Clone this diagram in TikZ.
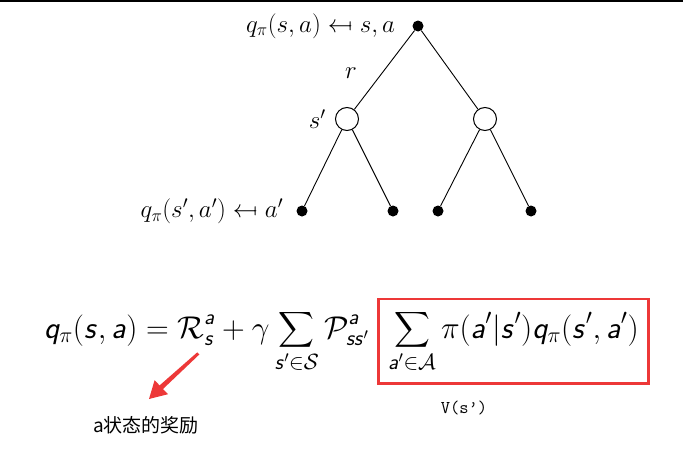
\RequirePackage{fix-cm}
\documentclass[tikz,border=0pt]{standalone}
\usepackage{amsmath}
\usepackage{stmaryrd}
\usepackage{fontspec}
\newfontfamily\cjk{Noto Sans CJK SC}
\usetikzlibrary{positioning}
\DeclareMathAlphabet{\mathsfit}{OT1}{cmss}{m}{sl}
\newcommand{\msf}[1]{\mathsfit{#1}}
\definecolor{boxred}{RGB}{237,56,56}

\tikzset{
  leaf/.style={circle,fill,inner sep=0pt,minimum size=11pt},
  statenode/.style={circle,draw,line width=1pt,inner sep=0pt,minimum size=23pt},
  treelbl/.style={font=\fontsize{25}{30}\selectfont,inner sep=0pt},
  eqn/.style={font=\fontsize{31.5}{38}\selectfont,inner sep=0pt},
}

\begin{document}
\begin{tikzpicture}[x=1pt,y=-1pt]
\useasboundingbox (0,0) rectangle (683,471);
\draw[line width=1.5pt] (0,1) -- (683,1);
% backup tree
\node[leaf] (root) at (418,26) {};
\node[statenode] (sl) at (347,119) {};
\node[statenode] (sr) at (485,119) {};
\node[leaf] (a1) at (302,211) {};
\node[leaf] (a2) at (393,211) {};
\node[leaf] (a3) at (438,211) {};
\node[leaf] (a4) at (531,211) {};
\draw[line width=0.9pt] (root) -- (sl) (root) -- (sr)
  (sl) -- (a1) (sl) -- (a2) (sr) -- (a3) (sr) -- (a4);
\node[treelbl,left=17pt of root] (qsa) {$q_\pi(s,a) \mapsfrom s,a$};
\node[treelbl] (rlbl) at (351,73) {$r$};
\node[treelbl,left=9pt of sl] (slbl) {$s'$};
\node[treelbl,left=13pt of a1] (qsa2) {$q_\pi(s',a') \mapsfrom a'$};
% bellman equation
\node[eqn,anchor=base west] (lhs) at (44,338)
  {$\displaystyle \msf{q}_\pi(\msf{s},\msf{a}) = \mathcal{R}^{\msf{a}}_{\msf{s}}
   + \gamma \sum_{\msf{s}'\in\mathcal{S}} \mathcal{P}^{\msf{a}}_{\msf{ss}'}$};
\node[eqn,base right=8pt of lhs,draw=boxred,line width=2.5pt,
  inner xsep=10pt,inner ysep=11pt] (vsum)
  {$\displaystyle \sum_{\msf{a}'\in\mathcal{A}} \pi(\msf{a}'|\msf{s}')
   \msf{q}_\pi(\msf{s}',\msf{a}')$};
\node[font=\ttfamily\fontsize{18}{21}\selectfont] (vlbl) at (464,408) {V(s’)};
% note on the reward
\node[font=\cjk\fontsize{19}{23}\selectfont] (rwd) at (146,425) {a状态的奖励};
\coordinate (rtail) at (198,353);
\coordinate (rtip) at (149,399);
\fill[boxred] (rtail) -- (199.4,354.4) -- (163,389) -- (168,394.2) -- (rtip)
  -- (154.6,380.2) -- (159.6,385.4) -- (197.3,352.3) -- cycle;
\end{tikzpicture}
\end{document}
